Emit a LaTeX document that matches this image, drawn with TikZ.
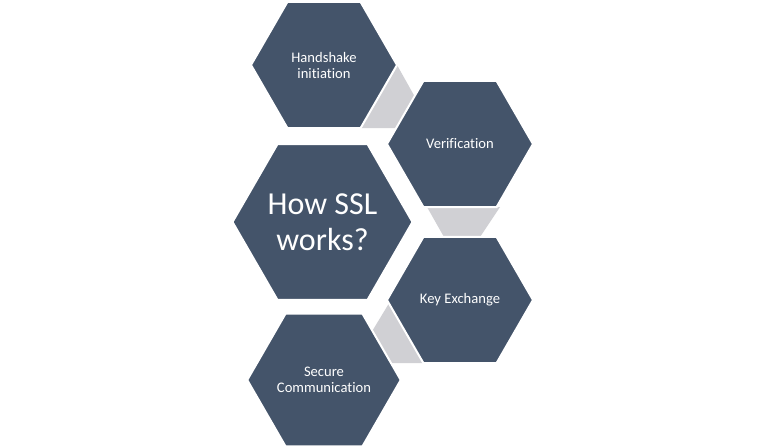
\documentclass[tikz,border=0pt]{standalone}
\usepackage{fontspec}
\setmainfont{Carlito}[Ligatures=NoCommon]
\usepackage{xcolor}
\usepackage{tikz}
\usetikzlibrary{shapes.geometric,backgrounds,calc}

\definecolor{hexblue}{HTML}{44546A}
\definecolor{linkgray}{RGB}{208,208,212}

\tikzset{
	hexa/.style={regular polygon, regular polygon sides=6, fill=hexblue, draw=white, line width=2pt, inner sep=0pt, minimum size=146pt, text=white, align=center, font=\fontsize{14.6}{16}\selectfont},
	bighexa/.style={hexa, minimum size=180pt, font=\fontsize{32}{36}\selectfont},
	link/.style={fill=linkgray}
}

\begin{document}
\begin{tikzpicture}[x=1pt,y=-1pt]
		\useasboundingbox (0,0) rectangle (768,445);

		\node[hexa] (hs) at (324,65) {Handshake\\initiation};
		\node[hexa] (vf) at (460,144) {Verification};
		\node[bighexa] (ssl) at (322.5,222) {How SSL\\works?};
		\node[hexa] (kx) at (460,300) {Key Exchange};
		\node[hexa] (sc) at (324,380) {Secure\\Communication};

		\begin{scope}[on background layer]
		\fill[white] (0,0) rectangle (768,445);
		\fill[link] ($(hs.center)+(73,0)$) -- ($(vf.center)+(-40,-38)$) -- ($(vf.center)+(-60,-16)$) -- ($(hs.center)+(36.5,63)$) -- cycle;
		\fill[link] ($(vf.center)+(-33,63)$) -- ($(vf.center)+(40,63)$) -- ($(kx.center)+(20,-63)$) -- ($(kx.center)+(-16,-63)$) -- cycle;
		\fill[link] ($(kx.center)+(-69,0)$) -- ($(sc.center)+(44,-42)$) -- ($(sc.center)+(56,-17)$) -- ($(kx.center)+(-36.5,63)$) -- cycle;
		\end{scope}
	\end{tikzpicture}
\end{document}
